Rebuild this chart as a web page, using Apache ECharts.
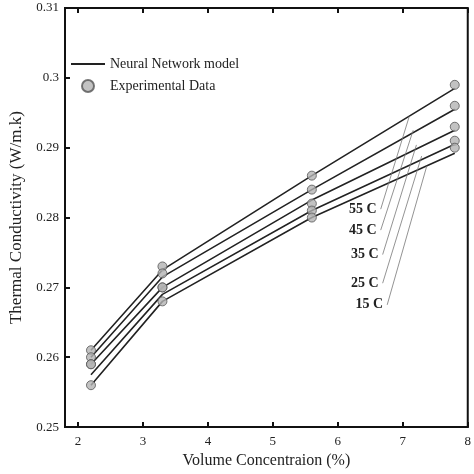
<!DOCTYPE html>
<html>
<head>
<meta charset="utf-8">
<script src="https://cdn.jsdelivr.net/npm/echarts@6/dist/echarts.min.js"></script>
<style>html,body{margin:0;padding:0;background:#fff}#chart{width:474px;height:474px}</style>
</head>
<body>
<div id="chart"></div>
<script>
// volume concentration (%)
const xs = [2.2, 3.3, 5.6, 7.8];
const xTicks = [2, 3, 4, 5, 6, 7, 8];
const temps = ['55 C', '45 C', '35 C', '25 C', '15 C'];

// neural network model curves
const model55 = [0.2610, 0.2725, 0.2860, 0.2985];
const model45 = [0.2600, 0.2715, 0.2840, 0.2955];
const model35 = [0.2590, 0.2700, 0.2825, 0.2925];
const model25 = [0.2575, 0.2690, 0.2810, 0.2905];
const model15 = [0.2560, 0.2680, 0.2800, 0.2892];

// experimental points
const exp55 = [0.261, 0.273, 0.286, 0.299];
const exp45 = [0.260, 0.272, 0.284, 0.296];
const exp35 = [0.259, 0.270, 0.282, 0.293];
const exp25 = [0.259, 0.270, 0.281, 0.291];
const exp15 = [0.256, 0.268, 0.280, 0.290];

// label leader lines: [start x, start y, end x, end y]
const leaders = [
  [6.66, 0.2812, 7.10, 0.2945],
  [6.66, 0.2782, 7.16, 0.2925],
  [6.69, 0.2747, 7.21, 0.2904],
  [6.69, 0.2706, 7.29, 0.2888],
  [6.76, 0.2675, 7.37, 0.2874]
];

const models = [model55, model45, model35, model25, model15];
const exps = [exp55, exp45, exp35, exp25, exp15];
const font = 'Liberation Serif';

var myChart = echarts.init(document.getElementById('chart'));

const series = [];
models.forEach(m => {
  series.push({
    name: 'Neural Network model', type: 'line', data: xs.map((x, i) => [x, m[i]]),
    symbol: 'none', lineStyle: { color: '#222', width: 1.6 }, itemStyle: { color: '#222' }, z: 2
  });
});
const expPoints = [];
exps.forEach(e => xs.forEach((x, i) => expPoints.push([x, e[i]])));
series.push({
  name: 'Experimental Data', type: 'scatter', data: expPoints, symbolSize: 9,
  itemStyle: { color: '#b3b3b3', borderColor: '#555', borderWidth: 1 }, z: 3
});
leaders.forEach((l, k) => {
  series.push({
    type: 'line', data: [[l[0], l[1]], [l[2], l[3]]], symbol: 'none', silent: true,
    lineStyle: { color: '#777', width: 0.8 },
    markPoint: {
      symbol: 'circle', symbolSize: 0,
      data: [{ coord: [l[0], l[1]], value: temps[k] }],
      label: { show: true, position: 'left', distance: 4, formatter: temps[k],
        fontFamily: font, fontWeight: 'bold', fontSize: 14, color: '#222' }
    }
  });
});

const tickStyle = { inside: true, length: 5, lineStyle: { color: '#111', width: 2 } };

var option = {
  animation: false,
  grid: { left: 38, right: 1, top: 8, bottom: 41, show: true, borderColor: '#111', borderWidth: 2 },
  legend: {
    left: 66, top: 52, orient: 'vertical', itemGap: 8, itemWidth: 34, itemHeight: 12,
    textStyle: { fontFamily: font, fontSize: 14, color: '#222' },
    data: [
      { name: 'Neural Network model', icon: 'path://M0,5 L34,5 L34,7 L0,7 Z', itemStyle: { color: '#222' } },
      { name: 'Experimental Data', icon: 'circle' }
    ]
  },
  xAxis: [{
    type: 'value', min: 1.8, max: 8, interval: 0.2,
    name: 'Volume Concentraion (%)', nameLocation: 'middle', nameGap: 24,
    nameTextStyle: { fontFamily: font, fontSize: 16, color: '#222' },
    axisLine: { lineStyle: { color: '#111', width: 2 } },
    axisTick: Object.assign({ customValues: xTicks }, tickStyle),
    axisLabel: { customValues: xTicks, fontFamily: font, fontSize: 13, color: '#222', margin: 8 },
    splitLine: { show: false }
  }, {
    type: 'value', position: 'top', min: 1.8, max: 8, interval: 0.2,
    axisLine: { show: false },
    axisTick: Object.assign({ customValues: xTicks }, tickStyle),
    axisLabel: { show: false }, splitLine: { show: false }
  }],
  yAxis: {
    type: 'value', min: 0.25, max: 0.31, interval: 0.01,
    name: 'Thermal Conductivity (W/m.k)', nameLocation: 'middle', nameGap: 40,
    nameTextStyle: { fontFamily: font, fontSize: 17, color: '#222' },
    axisLine: { lineStyle: { color: '#111', width: 2 } },
    axisTick: tickStyle,
    axisLabel: { fontFamily: font, fontSize: 13, color: '#222', margin: 6,
      formatter: v => String(+v.toFixed(2)) },
    splitLine: { show: false }
  },
  series: series
};
myChart.setOption(option);
</script>
</body>
</html>
